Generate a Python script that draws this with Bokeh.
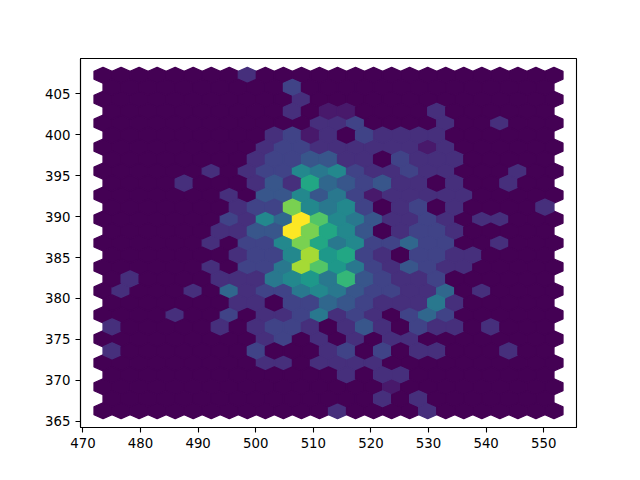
import numpy as np
from bokeh.plotting import figure
from bokeh.models import FixedTicker, Range1d
from bokeh.palettes import Viridis256
from bokeh.embed import file_html
from bokeh.resources import INLINE

# hexbin extent (data limits) and grid size
x_extent = [473.49, 551.77]
y_extent = [366.29, 407.27]
nx = 25
ny = 14

x_ticks = [470, 480, 490, 500, 510, 520, 530, 540, 550]
y_ticks = [365, 370, 375, 380, 385, 390, 395, 400, 405]

# counts on lattice 1 (rows j=0..ny, cols i=0..nx), bottom row first
lattice1_counts = [
    [0,0,0,0,0,0,0,0,0,0,0,0,0,2,0,0,0,0,2,0,0,0,0,0,0,0],
    [0,0,0,0,0,0,0,0,0,0,0,0,0,0,0,0,1,0,0,0,0,0,0,0,0,0],
    [0,0,0,0,0,0,0,0,0,2,2,0,2,2,2,2,0,0,0,0,0,0,0,0,0,0],
    [0,0,0,0,0,0,0,0,0,2,3,0,2,0,2,0,2,2,0,0,0,0,0,0,0,0],
    [0,0,0,0,2,0,0,3,0,2,2,3,6,2,3,2,0,3,5,3,0,0,0,0,0,0],
    [0,2,0,0,0,2,0,5,2,3,3,6,7,6,4,3,3,2,2,5,0,2,0,0,0,0],
    [0,0,0,0,0,0,2,0,3,3,6,13,11,8,6,3,2,4,3,2,2,0,0,0,0,0],
    [0,0,0,0,0,0,2,0,3,3,7,12,9,6,7,3,3,5,3,3,0,0,2,0,0,0],
    [0,0,0,0,0,0,0,3,2,7,5,15,11,7,6,4,2,2,3,2,0,2,2,0,0,0],
    [0,0,0,0,0,0,0,2,0,4,4,7,4,6,3,1,2,2,2,2,2,0,0,0,0,0],
    [0,0,0,0,0,0,2,0,2,3,3,7,6,7,3,2,2,3,2,2,0,0,0,2,0,0],
    [0,0,0,0,0,0,0,0,0,2,3,3,2,2,2,2,2,2,1,2,0,0,0,0,0,0],
    [0,0,0,0,0,0,0,0,0,0,0,0,2,2,3,0,0,0,0,2,0,0,2,0,0,0],
    [0,0,0,0,0,0,0,0,0,0,0,2,0,0,0,0,0,0,0,0,0,0,0,0,0,0],
    [0,0,0,0,0,0,0,0,2,0,0,0,0,0,0,0,0,0,0,0,0,0,0,0,0,0],
]

# counts on lattice 2 (rows j=0..ny-1, cols i=0..nx-1), offset by half a cell
lattice2_counts = [
    [0,0,0,0,0,0,0,0,0,0,0,0,0,0,0,2,0,2,0,0,0,0,0,0,0],
    [0,0,0,0,0,0,0,0,0,0,0,0,0,2,0,2,2,0,0,0,0,0,0,0,0],
    [2,0,0,0,0,0,0,0,3,0,0,0,2,3,0,3,0,2,2,0,0,0,2,0,0],
    [2,0,0,0,0,0,2,0,2,3,3,2,0,2,4,2,0,3,2,2,0,2,0,0,0],
    [0,0,0,0,0,0,0,2,2,0,3,3,5,4,3,2,2,2,6,2,0,0,0,0,0],
    [0,2,0,0,0,0,2,2,2,6,7,8,6,10,4,3,2,2,3,0,0,0,0,0,0],
    [0,0,0,0,0,0,0,2,3,3,7,13,8,9,3,2,0,3,3,2,2,0,0,0,0],
    [0,0,0,0,0,0,2,2,4,4,15,12,9,7,4,0,2,3,3,2,0,0,0,0,0],
    [0,0,0,0,0,0,0,2,3,3,12,7,6,7,3,0,2,3,0,2,0,0,0,0,2],
    [0,0,0,0,2,0,0,0,2,4,2,9,5,4,3,4,2,2,0,2,0,0,2,0,0],
    [0,0,0,0,0,0,0,0,2,3,3,4,4,2,2,0,3,2,2,2,0,0,0,0,0],
    [0,0,0,0,0,0,0,0,0,2,3,1,2,0,3,2,2,2,2,0,0,0,0,0,0],
    [0,0,0,0,0,0,0,0,0,0,2,0,1,1,0,0,0,0,2,0,0,0,0,0,0],
    [0,0,0,0,0,0,0,0,0,0,3,0,0,0,0,0,0,0,0,0,0,0,0,0,0],
]

xmin, xmax = x_extent
ymin, ymax = y_extent
sx = (xmax - xmin) / nx
sy = (ymax - ymin) / ny

c1 = np.array(lattice1_counts, dtype=float)
c2 = np.array(lattice2_counts, dtype=float)
j1, i1 = np.mgrid[0:c1.shape[0], 0:c1.shape[1]]
j2, i2 = np.mgrid[0:c2.shape[0], 0:c2.shape[1]]
cx = np.concatenate([xmin + i1.ravel() * sx, xmin + (i2.ravel() + 0.5) * sx])
cy = np.concatenate([ymin + j1.ravel() * sy, ymin + (j2.ravel() + 0.5) * sy])
counts = np.concatenate([c1.ravel(), c2.ravel()])

hx = np.array([0.5, 0.5, 0.0, -0.5, -0.5, 0.0]) * sx
hy = np.array([-0.5, 0.5, 1.0, 0.5, -0.5, -1.0]) * sy / 3.0
xs = [list(x + hx) for x in cx]
ys = [list(y + hy) for y in cy]

vmax = counts.max()
colors = [Viridis256[min(int(c / vmax * 256), 255)] for c in counts]

W = xmax - xmin
H = ymax - ymin
p = figure(width=632, height=472, output_backend="svg", toolbar_location=None,
           x_range=Range1d(xmin - 0.05 * W, xmax + 0.05 * W),
           y_range=Range1d(ymin - 0.05 * H, ymax + 0.05 * H),
           min_border_left=80, min_border_right=56, min_border_top=58, min_border_bottom=45)

p.patches(xs, ys, fill_color=colors, line_color=colors, line_width=1.3)

p.xgrid.visible = False
p.ygrid.visible = False
p.background_fill_color = "white"
p.border_fill_color = "white"
p.outline_line_color = "black"
p.outline_line_width = 1.1

p.xaxis.ticker = FixedTicker(ticks=x_ticks)
p.yaxis.ticker = FixedTicker(ticks=y_ticks)
for ax in (p.xaxis[0], p.yaxis[0]):
    ax.axis_line_color = "black"
    ax.axis_line_width = 1.1
    ax.major_tick_line_color = "black"
    ax.major_tick_line_width = 1.1
    ax.major_tick_out = 5
    ax.major_tick_in = 0
    ax.minor_tick_line_color = None
    ax.major_label_text_font = "DejaVu Sans"
    ax.major_label_text_font_size = "13.3px"
    ax.major_label_text_color = "black"
    ax.major_label_standoff = 5

open("out.html", "w").write(file_html(p, INLINE))
